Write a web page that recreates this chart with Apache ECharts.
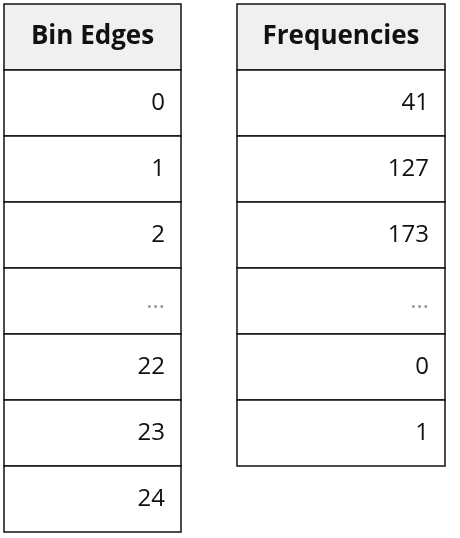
<!DOCTYPE html>
<html>
<head>
<meta charset="utf-8">
<script src="https://cdn.jsdelivr.net/npm/echarts@6/dist/echarts.min.js"></script>
<style>html,body{margin:0;padding:0;background:#fff}#chart{width:460px;height:538px}</style>
</head>
<body>
<div id="chart"></div>
<script>
const binHeader = "Bin Edges";
const binEdges = ["0", "1", "2", "…", "22", "23", "24"];
const freqHeader = "Frequencies";
const frequencies = ["41", "127", "173", "…", "0", "1"];

const chart = echarts.init(document.getElementById("chart"));
const rowH = 66, tableTop = 4;

function table(x, w, header, values) {
  const els = [];
  const rows = [header].concat(values);
  rows.forEach((v, i) => {
    const y = tableTop + i * rowH;
    els.push({
      type: "rect",
      shape: { x: x, y: y, width: w, height: rowH },
      style: { fill: i === 0 ? "#f0f0f0" : "#fff", stroke: "#111", lineWidth: 1.5 }
    });
    const isHeader = i === 0;
    els.push({
      type: "text",
      x: isHeader ? x + w / 2 : x + w - 16,
      y: y + rowH / 2,
      style: {
        text: v,
        align: isHeader ? "center" : "right",
        verticalAlign: "middle",
        fontFamily: "Open Sans",
        fontSize: isHeader ? 26 : 24,
        fontWeight: isHeader ? "bold" : "normal",
        fill: v === "…" ? "#999" : "#111"
      }
    });
  });
  return els;
}

chart.setOption({
  animation: false,
  graphic: table(4, 177, binHeader, binEdges).concat(table(237, 208, freqHeader, frequencies))
});
</script>
</body>
</html>
